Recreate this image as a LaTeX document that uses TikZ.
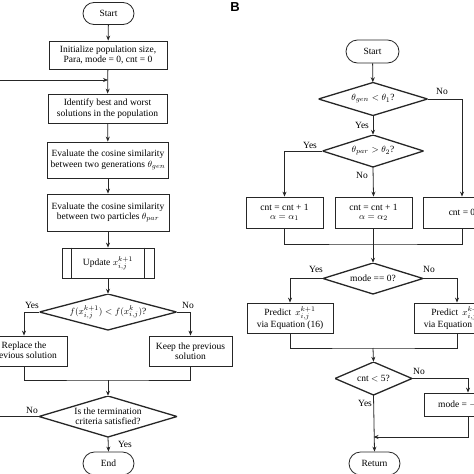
\documentclass[tikz,border=0pt]{standalone}
\usepackage{fontspec}
\setmainfont{Liberation Serif}
\newfontfamily\labelfont{Liberation Sans}
\usetikzlibrary{shapes.misc,arrows.meta}
\tikzset{
  ln/.style={draw=black!85, line width=0.8pt},
  arr/.style={ln, -{Stealth[length=5pt,width=4pt]}},
  base/.style={ln, align=center, inner sep=1pt, font=\fontsize{9.5}{10.5}\selectfont},
  term/.style={base, rounded rectangle, minimum width=53, minimum height=22},
  proc/.style={base, rectangle},
  dec/.style={rectangle, inner sep=0pt, align=center, font=\fontsize{9.5}{10.5}\selectfont,
    path picture={\draw[line width=1.3pt, black!85] (path picture bounding box.north) -- (path picture bounding box.east) -- (path picture bounding box.south) -- (path picture bounding box.west) -- cycle;}},
  lab/.style={font=\fontsize{9.5}{10}\selectfont, inner sep=0pt}
}
\begin{document}
\begin{tikzpicture}[x=1pt,y=-1pt]
\useasboundingbox (0,0) rectangle (474,474);
\clip (0,0) rectangle (474,474);
\fill[white] (0,0) rectangle (474,474);
% ---------------- Panel A ----------------
\node[term] (sA) at (108.5,13.5) {Start};
\node[proc, minimum width=118, minimum height=28] (init) at (108,55) {Initialize population size,\\ Para, mode = 0, cnt = 0};
\node[proc, minimum width=119, minimum height=29] (ident) at (107.5,108.5) {Identify best and worst\\ solutions in the population};
\node[proc, minimum width=121, minimum height=36] (ev1) at (108,160) {Evaluate the cosine similarity\\ between two generations $\theta_{gen}$};
\node[proc, minimum width=122, minimum height=37] (ev2) at (108,212.5) {Evaluate the cosine similarity\\ between two particles $\theta_{par}$};
\node[proc, minimum width=92, minimum height=30] (upd) at (108,263) {Update $x_{i,j}^{k+1}$};
\draw[ln] ([xshift=10]upd.north west) -- ([xshift=10]upd.south west);
\draw[ln] ([xshift=-10]upd.north east) -- ([xshift=-10]upd.south east);
\node[dec, minimum width=137, minimum height=36] (dA1) at (108,312) {$f(x_{i,j}^{k+1}) < f(x_{i,j}^{k})$?};
\node[proc, minimum width=86, minimum height=30] (rep) at (24,351) {Replace the\\ previous solution};
\node[proc, minimum width=83, minimum height=30] (keep) at (190.5,351) {Keep the previous\\ solution};
\node[dec, minimum width=138, minimum height=41] (dA2) at (108,416.5) {Is the termination\\ criteria satisfied?};
\node[term, minimum height=23] (eA) at (108.5,463.5) {End};
\coordinate (fbA) at (108,80);
\coordinate (mA) at (108,380);

\draw[arr] (sA) -- (init);
\draw[arr] (init) -- (ident);
\draw[arr] (ident) -- (ev1);
\draw[arr] (ev1) -- (ev2);
\draw[arr] (ev2) -- (upd);
\draw[arr] (upd) -- (dA1);
\draw[arr] (dA1.west) -| (rep.north);
\draw[arr] (dA1.east) -| (keep.north);
\draw[ln] (rep.south) |- (mA) -| (keep.south);
\draw[arr] (mA) -- (dA2.north);
\draw[arr] (dA2.south) -- (eA.north);
\draw[arr] (dA2.west) -- (-3,416.5) -- (-3,80) -- (fbA);

\node[lab] at (32,305) {Yes};
\node[lab] at (188,305) {No};
\node[lab] at (32,410) {No};
\node[lab] at (125,444) {Yes};

% ---------------- Panel B ----------------
\node[font=\labelfont\bfseries\fontsize{13}{13}\selectfont, inner sep=0pt] (B) at (235,7.5) {B};
\node[term, minimum width=55, minimum height=23] (sB) at (372.5,51.5) {Start};
\node[dec, minimum width=109, minimum height=33] (dB1) at (373,99) {$\theta_{gen} < \theta_1$?};
\node[dec, minimum width=101, minimum height=32] (dB2) at (373,151) {$\theta_{par} > \theta_2$?};
\node[proc, minimum width=77, minimum height=31] (b1) at (284.5,212.5) {cnt = cnt + 1\\[-2pt] $\alpha=\alpha_1$};
\node[proc, minimum width=77, minimum height=31] (b2) at (373.5,212.5) {cnt = cnt + 1\\[-2pt] $\alpha=\alpha_2$};
\node[proc, minimum width=77, minimum height=31] (b3) at (462,212.5) {cnt = 0};
\node[dec, minimum width=100, minimum height=31] (dB3) at (373,278.5) {mode == 0?};
\node[proc, minimum width=86, minimum height=30] (p1) at (290,318) {Predict \,$x_{i,j}^{k+1}$\\ via Equation (16)};
\node[proc, minimum width=86, minimum height=30] (p2) at (457,318) {Predict \,$x_{i,j}^{k+1}$\\ via Equation (17)};
\node[dec, minimum width=77, minimum height=33] (dB4) at (373.5,378.5) {cnt $<$ 5?};
\node[proc, minimum width=88, minimum height=23] (mb) at (468,404.5) {mode = $-$mode};
\node[term, minimum height=23] (ret) at (374.5,463.5) {Return};
\coordinate (mB) at (373,244);
\coordinate (mB2) at (373,348);
\coordinate (jn) at (373.5,437);

\draw[arr] (sB) -- (dB1);
\draw[arr] (dB1.east) -| (b3.north);
\draw[arr] (dB1.south) -- (dB2.north);
\draw[arr] (dB2.west) -| (b1.north);
\draw[arr] (dB2.south) -- (b2.north);
\draw[ln] (b1.south) |- (mB) -| (b3.south);
\draw[ln] (b2.south) -- (b2.south |- mB);
\draw[arr] (mB) -- (dB3.north);
\draw[arr] (dB3.west) -| (p1.north);
\draw[arr] (dB3.east) -| (p2.north);
\draw[ln] (p1.south) |- (mB2) -| (p2.south);
\draw[arr] (mB2) -- (dB4.north);
\draw[arr] (dB4.east) -| (mb.north);
\draw[arr] (dB4.south) -- (ret.north);
\draw[arr] (mb.south) |- (jn);

\node[lab] at (442,91) {No};
\node[lab] at (362,125) {Yes};
\node[lab] at (310,145) {Yes};
\node[lab] at (362,175) {No};
\node[lab] at (316,269) {Yes};
\node[lab] at (429,269) {No};
\node[lab] at (419,371) {No};
\node[lab] at (365,403) {Yes};
\end{tikzpicture}
\end{document}
